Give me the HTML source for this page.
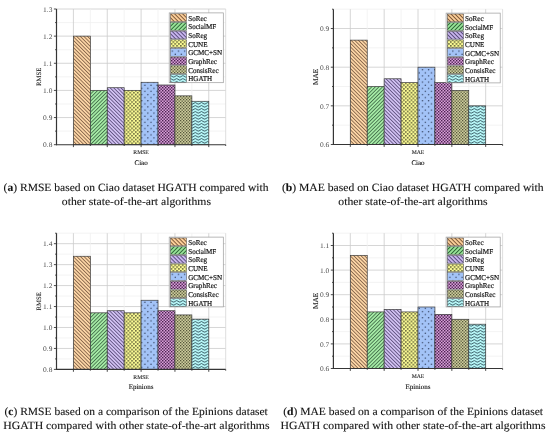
<!DOCTYPE html>
<html><head><meta charset="utf-8"><style>
html,body{margin:0;padding:0;background:#fff;width:550px;height:435px;overflow:hidden}
svg{display:block;filter:blur(0.35px)}
text{text-rendering:geometricPrecision}
.tk{font-family:"Liberation Serif",serif;font-size:7px;fill:#4a4a4a}
.xl{font-family:"Liberation Serif",serif;font-size:5.7px;fill:#1a1a1a;stroke:#1a1a1a;stroke-width:0.08}
.ds{font-family:"Liberation Serif",serif;font-size:7.0px;fill:#111;stroke:#111;stroke-width:0.12}
.yl{font-family:"Liberation Serif",serif;fill:#1a1a1a;stroke:#1a1a1a;stroke-width:0.1}
.lg{font-family:"Liberation Serif",serif;font-size:7.5px;fill:#1a1a1a;stroke:#1a1a1a;stroke-width:0.2}
.cap{font-family:"Liberation Serif",serif;font-size:11.1px;fill:#111;stroke:#111;stroke-width:0.1}
</style></head><body>
<svg width="550" height="435" viewBox="0 0 550 435">
<rect width="550" height="435" fill="#fff"/>

<defs>
 <pattern id="pSoRec" patternUnits="userSpaceOnUse" width="2.55" height="10" patternTransform="rotate(-45)">
  <rect width="2.55" height="10" fill="#ffd8a8"/><rect width="0.9" height="10" fill="#86654a"/>
 </pattern>
 <pattern id="pSocialMF" patternUnits="userSpaceOnUse" width="2.55" height="10" patternTransform="rotate(45)">
  <rect width="2.55" height="10" fill="#a8eea8"/><rect width="0.9" height="10" fill="#44714c"/>
 </pattern>
 <pattern id="pSoReg" patternUnits="userSpaceOnUse" width="2.55" height="10" patternTransform="rotate(-45)">
  <rect width="2.55" height="10" fill="#d4c4f5"/><rect width="0.9" height="10" fill="#605280"/>
 </pattern>
 <pattern id="pCUNE" patternUnits="userSpaceOnUse" width="3.75" height="3.75">
  <rect width="3.75" height="3.75" fill="#fbfb94"/>
  <rect x="0" y="0" width="1.6" height="1.6" fill="#6a6a3e"/>
  <rect x="1.875" y="1.875" width="1.6" height="1.6" fill="#6a6a3e"/>
 </pattern>
 <pattern id="pGCMC" patternUnits="userSpaceOnUse" width="6.1" height="6.2">
  <rect width="6.1" height="6.2" fill="#a3c3f7"/>
  <circle cx="1.5" cy="1.5" r="0.7" fill="#26324e"/>
  <circle cx="4.55" cy="4.6" r="0.7" fill="#26324e"/>
 </pattern>
 <pattern id="pGraphRec" patternUnits="userSpaceOnUse" width="3.0" height="3.0">
  <rect width="3.0" height="3.0" fill="#d89ed8"/>
  <rect x="0" y="0" width="1.4" height="1.4" fill="#4a2250"/>
  <rect x="1.5" y="1.5" width="1.4" height="1.4" fill="#4a2250"/>
 </pattern>
 <pattern id="pConsisRec" patternUnits="userSpaceOnUse" width="3.0" height="3.0">
  <rect width="3.0" height="3.0" fill="#cdcd9c"/>
  <rect x="0" y="0" width="1.3" height="1.3" fill="#55553a"/>
  <rect x="1.5" y="1.5" width="1.3" height="1.3" fill="#55553a"/>
 </pattern>
 <pattern id="pHGATH" patternUnits="userSpaceOnUse" width="6.2" height="3.0">
  <rect width="6.2" height="3.0" fill="#b6f5f6"/>
  <path d="M-3.1,0.5 L0,2.3 L3.1,0.5 L6.2,2.3 L9.3,0.5" fill="none" stroke="#1c3a44" stroke-width="0.72"/>
 </pattern>
 <pattern id="lSoRec" patternUnits="userSpaceOnUse" width="2.83" height="10" patternTransform="rotate(-45)">
  <rect width="2.83" height="10" fill="#ffd29c"/><rect width="1.0" height="10" fill="#7a5535"/>
 </pattern>
 <pattern id="lSocialMF" patternUnits="userSpaceOnUse" width="2.83" height="10" patternTransform="rotate(45)">
  <rect width="2.83" height="10" fill="#9ce89c"/><rect width="1.0" height="10" fill="#2f6638"/>
 </pattern>
 <pattern id="lSoReg" patternUnits="userSpaceOnUse" width="2.83" height="10" patternTransform="rotate(-45)">
  <rect width="2.83" height="10" fill="#cbb8f2"/><rect width="1.0" height="10" fill="#574a78"/>
 </pattern>
</defs>

<line x1="56.5" y1="131.13" x2="225.7" y2="131.13" stroke="#f0f0f0" stroke-width="0.8"/>
<line x1="56.5" y1="117.56" x2="225.7" y2="117.56" stroke="#cccccc" stroke-width="0.8"/>
<line x1="56.5" y1="103.99" x2="225.7" y2="103.99" stroke="#f0f0f0" stroke-width="0.8"/>
<line x1="56.5" y1="90.42" x2="225.7" y2="90.42" stroke="#cccccc" stroke-width="0.8"/>
<line x1="56.5" y1="76.85" x2="225.7" y2="76.85" stroke="#f0f0f0" stroke-width="0.8"/>
<line x1="56.5" y1="63.28" x2="225.7" y2="63.28" stroke="#cccccc" stroke-width="0.8"/>
<line x1="56.5" y1="49.71" x2="225.7" y2="49.71" stroke="#f0f0f0" stroke-width="0.8"/>
<line x1="56.5" y1="36.14" x2="225.7" y2="36.14" stroke="#cccccc" stroke-width="0.8"/>
<line x1="56.5" y1="22.57" x2="225.7" y2="22.57" stroke="#f0f0f0" stroke-width="0.8"/>
<line x1="56.5" y1="9" x2="225.7" y2="9" stroke="#cccccc" stroke-width="0.8"/>
<line x1="73.42" y1="9" x2="73.42" y2="144.7" stroke="#cccccc" stroke-width="0.8"/>
<line x1="90.34" y1="9" x2="90.34" y2="144.7" stroke="#f0f0f0" stroke-width="0.8"/>
<line x1="107.26" y1="9" x2="107.26" y2="144.7" stroke="#cccccc" stroke-width="0.8"/>
<line x1="124.18" y1="9" x2="124.18" y2="144.7" stroke="#f0f0f0" stroke-width="0.8"/>
<line x1="141.1" y1="9" x2="141.1" y2="144.7" stroke="#cccccc" stroke-width="0.8"/>
<line x1="158.02" y1="9" x2="158.02" y2="144.7" stroke="#f0f0f0" stroke-width="0.8"/>
<line x1="174.94" y1="9" x2="174.94" y2="144.7" stroke="#cccccc" stroke-width="0.8"/>
<line x1="191.86" y1="9" x2="191.86" y2="144.7" stroke="#f0f0f0" stroke-width="0.8"/>
<line x1="208.78" y1="9" x2="208.78" y2="144.7" stroke="#cccccc" stroke-width="0.8"/>
<line x1="225.7" y1="9" x2="225.7" y2="144.7" stroke="#d4d4d4" stroke-width="0.8"/>
<rect x="73.42" y="36.14" width="16.92" height="108.56" fill="url(#pSoRec)" stroke="#3a3a3a" stroke-width="0.7"/>
<rect x="90.34" y="90.42" width="16.92" height="54.28" fill="url(#pSocialMF)" stroke="#3a3a3a" stroke-width="0.7"/>
<rect x="107.26" y="87.71" width="16.92" height="56.99" fill="url(#pSoReg)" stroke="#3a3a3a" stroke-width="0.7"/>
<rect x="124.18" y="90.42" width="16.92" height="54.28" fill="url(#pCUNE)" stroke="#3a3a3a" stroke-width="0.7"/>
<rect x="141.1" y="82.28" width="16.92" height="62.42" fill="url(#pGCMC)" stroke="#3a3a3a" stroke-width="0.7"/>
<rect x="158.02" y="84.99" width="16.92" height="59.71" fill="url(#pGraphRec)" stroke="#3a3a3a" stroke-width="0.7"/>
<rect x="174.94" y="95.85" width="16.92" height="48.85" fill="url(#pConsisRec)" stroke="#3a3a3a" stroke-width="0.7"/>
<rect x="191.86" y="101.28" width="16.92" height="43.42" fill="url(#pHGATH)" stroke="#3a3a3a" stroke-width="0.7"/>
<line x1="56.5" y1="9" x2="56.5" y2="145.2" stroke="#353535" stroke-width="1.2"/>
<line x1="56" y1="144.7" x2="225.7" y2="144.7" stroke="#353535" stroke-width="1.15"/>
<line x1="53.9" y1="144.7" x2="56.5" y2="144.7" stroke="#353535" stroke-width="0.9"/>
<text x="52.4" y="147.4" class="tk" text-anchor="end" textLength="9.3" lengthAdjust="spacingAndGlyphs">0.8</text>
<line x1="55.1" y1="131.13" x2="56.5" y2="131.13" stroke="#353535" stroke-width="0.9"/>
<line x1="53.9" y1="117.56" x2="56.5" y2="117.56" stroke="#353535" stroke-width="0.9"/>
<text x="52.4" y="120.26" class="tk" text-anchor="end" textLength="9.3" lengthAdjust="spacingAndGlyphs">0.9</text>
<line x1="55.1" y1="103.99" x2="56.5" y2="103.99" stroke="#353535" stroke-width="0.9"/>
<line x1="53.9" y1="90.42" x2="56.5" y2="90.42" stroke="#353535" stroke-width="0.9"/>
<text x="52.4" y="93.12" class="tk" text-anchor="end" textLength="9.3" lengthAdjust="spacingAndGlyphs">1.0</text>
<line x1="55.1" y1="76.85" x2="56.5" y2="76.85" stroke="#353535" stroke-width="0.9"/>
<line x1="53.9" y1="63.28" x2="56.5" y2="63.28" stroke="#353535" stroke-width="0.9"/>
<text x="52.4" y="65.98" class="tk" text-anchor="end" textLength="9.3" lengthAdjust="spacingAndGlyphs">1.1</text>
<line x1="55.1" y1="49.71" x2="56.5" y2="49.71" stroke="#353535" stroke-width="0.9"/>
<line x1="53.9" y1="36.14" x2="56.5" y2="36.14" stroke="#353535" stroke-width="0.9"/>
<text x="52.4" y="38.84" class="tk" text-anchor="end" textLength="9.3" lengthAdjust="spacingAndGlyphs">1.2</text>
<line x1="55.1" y1="22.57" x2="56.5" y2="22.57" stroke="#353535" stroke-width="0.9"/>
<line x1="53.9" y1="9" x2="56.5" y2="9" stroke="#353535" stroke-width="0.9"/>
<text x="52.4" y="11.7" class="tk" text-anchor="end" textLength="9.3" lengthAdjust="spacingAndGlyphs">1.3</text>
<line x1="73.42" y1="144.7" x2="73.42" y2="147.1" stroke="#353535" stroke-width="0.9"/>
<line x1="90.34" y1="144.7" x2="90.34" y2="146" stroke="#353535" stroke-width="0.9"/>
<line x1="107.26" y1="144.7" x2="107.26" y2="147.1" stroke="#353535" stroke-width="0.9"/>
<line x1="124.18" y1="144.7" x2="124.18" y2="146" stroke="#353535" stroke-width="0.9"/>
<line x1="141.1" y1="144.7" x2="141.1" y2="147.1" stroke="#353535" stroke-width="0.9"/>
<line x1="158.02" y1="144.7" x2="158.02" y2="146" stroke="#353535" stroke-width="0.9"/>
<line x1="174.94" y1="144.7" x2="174.94" y2="147.1" stroke="#353535" stroke-width="0.9"/>
<line x1="191.86" y1="144.7" x2="191.86" y2="146" stroke="#353535" stroke-width="0.9"/>
<line x1="208.78" y1="144.7" x2="208.78" y2="147.1" stroke="#353535" stroke-width="0.9"/>
<line x1="225.7" y1="144.7" x2="225.7" y2="146" stroke="#353535" stroke-width="0.9"/>
<text x="141.1" y="153.8" class="xl" text-anchor="middle">RMSE</text>
<text x="141.1" y="164.7" class="ds" text-anchor="middle">Ciao</text>
<text transform="translate(41,76.85) rotate(-90)" class="yl" text-anchor="middle" font-size="6.7px">RMSE</text>
<rect x="169.2" y="12.9" width="54.1" height="69.8" fill="#ffffff" stroke="#9a9a9a" stroke-width="0.7"/>
<rect x="170.4" y="13.8" width="16.2" height="7.8" fill="url(#lSoRec)" stroke="#5a5a5a" stroke-width="0.55"/>
<text x="188.2" y="20.7" class="lg" textLength="18.54" lengthAdjust="spacingAndGlyphs">SoRec</text>
<rect x="170.4" y="22.46" width="16.2" height="7.8" fill="url(#lSocialMF)" stroke="#5a5a5a" stroke-width="0.55"/>
<text x="188.2" y="29.36" class="lg" textLength="28.01" lengthAdjust="spacingAndGlyphs">SocialMF</text>
<rect x="170.4" y="31.12" width="16.2" height="7.8" fill="url(#lSoReg)" stroke="#5a5a5a" stroke-width="0.55"/>
<text x="188.2" y="38.02" class="lg" textLength="18.94" lengthAdjust="spacingAndGlyphs">SoReg</text>
<rect x="170.4" y="39.78" width="16.2" height="7.8" fill="url(#pCUNE)" stroke="#5a5a5a" stroke-width="0.55"/>
<text x="188.2" y="46.68" class="lg" textLength="19.33" lengthAdjust="spacingAndGlyphs">CUNE</text>
<rect x="170.4" y="48.44" width="16.2" height="7.8" fill="url(#pGCMC)" stroke="#5a5a5a" stroke-width="0.55"/>
<text x="188.2" y="55.34" class="lg" textLength="33.99" lengthAdjust="spacingAndGlyphs">GCMC+SN</text>
<rect x="170.4" y="57.1" width="16.2" height="7.8" fill="url(#pGraphRec)" stroke="#5a5a5a" stroke-width="0.55"/>
<text x="188.2" y="64" class="lg" textLength="28.78" lengthAdjust="spacingAndGlyphs">GraphRec</text>
<rect x="170.4" y="65.76" width="16.2" height="7.8" fill="url(#pConsisRec)" stroke="#5a5a5a" stroke-width="0.55"/>
<text x="188.2" y="72.66" class="lg" textLength="30.37" lengthAdjust="spacingAndGlyphs">ConsisRec</text>
<rect x="170.4" y="74.42" width="16.2" height="7.8" fill="url(#pHGATH)" stroke="#5a5a5a" stroke-width="0.55"/>
<text x="188.2" y="81.32" class="lg" textLength="24.06" lengthAdjust="spacingAndGlyphs">HGATH</text>

<text x="3.6" y="190.9" class="cap" textLength="264.9" lengthAdjust="spacingAndGlyphs">(<tspan font-weight="bold">a</tspan>) RMSE based on Ciao dataset HGATH compared with</text>
<text x="61.8" y="205.4" class="cap" textLength="149.2" lengthAdjust="spacingAndGlyphs">other state-of-the-art algorithms</text>
<line x1="333.4" y1="125.17" x2="502.6" y2="125.17" stroke="#f0f0f0" stroke-width="0.8"/>
<line x1="333.4" y1="105.84" x2="502.6" y2="105.84" stroke="#cccccc" stroke-width="0.8"/>
<line x1="333.4" y1="86.51" x2="502.6" y2="86.51" stroke="#f0f0f0" stroke-width="0.8"/>
<line x1="333.4" y1="67.19" x2="502.6" y2="67.19" stroke="#cccccc" stroke-width="0.8"/>
<line x1="333.4" y1="47.86" x2="502.6" y2="47.86" stroke="#f0f0f0" stroke-width="0.8"/>
<line x1="333.4" y1="28.53" x2="502.6" y2="28.53" stroke="#cccccc" stroke-width="0.8"/>
<line x1="333.4" y1="9.2" x2="502.6" y2="9.2" stroke="#f0f0f0" stroke-width="0.8"/>
<line x1="350.32" y1="9.2" x2="350.32" y2="144.5" stroke="#cccccc" stroke-width="0.8"/>
<line x1="367.24" y1="9.2" x2="367.24" y2="144.5" stroke="#f0f0f0" stroke-width="0.8"/>
<line x1="384.16" y1="9.2" x2="384.16" y2="144.5" stroke="#cccccc" stroke-width="0.8"/>
<line x1="401.08" y1="9.2" x2="401.08" y2="144.5" stroke="#f0f0f0" stroke-width="0.8"/>
<line x1="418" y1="9.2" x2="418" y2="144.5" stroke="#cccccc" stroke-width="0.8"/>
<line x1="434.92" y1="9.2" x2="434.92" y2="144.5" stroke="#f0f0f0" stroke-width="0.8"/>
<line x1="451.84" y1="9.2" x2="451.84" y2="144.5" stroke="#cccccc" stroke-width="0.8"/>
<line x1="468.76" y1="9.2" x2="468.76" y2="144.5" stroke="#f0f0f0" stroke-width="0.8"/>
<line x1="485.68" y1="9.2" x2="485.68" y2="144.5" stroke="#cccccc" stroke-width="0.8"/>
<line x1="502.6" y1="9.2" x2="502.6" y2="144.5" stroke="#d4d4d4" stroke-width="0.8"/>
<rect x="350.32" y="40.13" width="16.92" height="104.37" fill="url(#pSoRec)" stroke="#3a3a3a" stroke-width="0.7"/>
<rect x="367.24" y="86.51" width="16.92" height="57.99" fill="url(#pSocialMF)" stroke="#3a3a3a" stroke-width="0.7"/>
<rect x="384.16" y="78.78" width="16.92" height="65.72" fill="url(#pSoReg)" stroke="#3a3a3a" stroke-width="0.7"/>
<rect x="401.08" y="82.65" width="16.92" height="61.85" fill="url(#pCUNE)" stroke="#3a3a3a" stroke-width="0.7"/>
<rect x="418" y="67.19" width="16.92" height="77.31" fill="url(#pGCMC)" stroke="#3a3a3a" stroke-width="0.7"/>
<rect x="434.92" y="82.65" width="16.92" height="61.85" fill="url(#pGraphRec)" stroke="#3a3a3a" stroke-width="0.7"/>
<rect x="451.84" y="90.38" width="16.92" height="54.12" fill="url(#pConsisRec)" stroke="#3a3a3a" stroke-width="0.7"/>
<rect x="468.76" y="105.84" width="16.92" height="38.66" fill="url(#pHGATH)" stroke="#3a3a3a" stroke-width="0.7"/>
<line x1="333.4" y1="9.2" x2="333.4" y2="145" stroke="#353535" stroke-width="1.2"/>
<line x1="332.9" y1="144.5" x2="502.6" y2="144.5" stroke="#353535" stroke-width="1.15"/>
<line x1="330.8" y1="144.5" x2="333.4" y2="144.5" stroke="#353535" stroke-width="0.9"/>
<text x="329.3" y="147.2" class="tk" text-anchor="end" textLength="9.3" lengthAdjust="spacingAndGlyphs">0.6</text>
<line x1="332" y1="125.17" x2="333.4" y2="125.17" stroke="#353535" stroke-width="0.9"/>
<line x1="330.8" y1="105.84" x2="333.4" y2="105.84" stroke="#353535" stroke-width="0.9"/>
<text x="329.3" y="108.54" class="tk" text-anchor="end" textLength="9.3" lengthAdjust="spacingAndGlyphs">0.7</text>
<line x1="332" y1="86.51" x2="333.4" y2="86.51" stroke="#353535" stroke-width="0.9"/>
<line x1="330.8" y1="67.19" x2="333.4" y2="67.19" stroke="#353535" stroke-width="0.9"/>
<text x="329.3" y="69.89" class="tk" text-anchor="end" textLength="9.3" lengthAdjust="spacingAndGlyphs">0.8</text>
<line x1="332" y1="47.86" x2="333.4" y2="47.86" stroke="#353535" stroke-width="0.9"/>
<line x1="330.8" y1="28.53" x2="333.4" y2="28.53" stroke="#353535" stroke-width="0.9"/>
<text x="329.3" y="31.23" class="tk" text-anchor="end" textLength="9.3" lengthAdjust="spacingAndGlyphs">0.9</text>
<line x1="332" y1="9.2" x2="333.4" y2="9.2" stroke="#353535" stroke-width="0.9"/>
<line x1="350.32" y1="144.5" x2="350.32" y2="146.9" stroke="#353535" stroke-width="0.9"/>
<line x1="367.24" y1="144.5" x2="367.24" y2="145.8" stroke="#353535" stroke-width="0.9"/>
<line x1="384.16" y1="144.5" x2="384.16" y2="146.9" stroke="#353535" stroke-width="0.9"/>
<line x1="401.08" y1="144.5" x2="401.08" y2="145.8" stroke="#353535" stroke-width="0.9"/>
<line x1="418" y1="144.5" x2="418" y2="146.9" stroke="#353535" stroke-width="0.9"/>
<line x1="434.92" y1="144.5" x2="434.92" y2="145.8" stroke="#353535" stroke-width="0.9"/>
<line x1="451.84" y1="144.5" x2="451.84" y2="146.9" stroke="#353535" stroke-width="0.9"/>
<line x1="468.76" y1="144.5" x2="468.76" y2="145.8" stroke="#353535" stroke-width="0.9"/>
<line x1="485.68" y1="144.5" x2="485.68" y2="146.9" stroke="#353535" stroke-width="0.9"/>
<line x1="502.6" y1="144.5" x2="502.6" y2="145.8" stroke="#353535" stroke-width="0.9"/>
<text x="418" y="153.6" class="xl" text-anchor="middle">MAE</text>
<text x="418" y="164.5" class="ds" text-anchor="middle">Ciao</text>
<text transform="translate(317.9,76.85) rotate(-90)" class="yl" text-anchor="middle" font-size="7.4px">MAE</text>
<rect x="446.1" y="13.1" width="54.1" height="69.8" fill="#ffffff" stroke="#9a9a9a" stroke-width="0.7"/>
<rect x="447.3" y="14" width="16.2" height="7.8" fill="url(#lSoRec)" stroke="#5a5a5a" stroke-width="0.55"/>
<text x="465.1" y="20.9" class="lg" textLength="18.54" lengthAdjust="spacingAndGlyphs">SoRec</text>
<rect x="447.3" y="22.66" width="16.2" height="7.8" fill="url(#lSocialMF)" stroke="#5a5a5a" stroke-width="0.55"/>
<text x="465.1" y="29.56" class="lg" textLength="28.01" lengthAdjust="spacingAndGlyphs">SocialMF</text>
<rect x="447.3" y="31.32" width="16.2" height="7.8" fill="url(#lSoReg)" stroke="#5a5a5a" stroke-width="0.55"/>
<text x="465.1" y="38.22" class="lg" textLength="18.94" lengthAdjust="spacingAndGlyphs">SoReg</text>
<rect x="447.3" y="39.98" width="16.2" height="7.8" fill="url(#pCUNE)" stroke="#5a5a5a" stroke-width="0.55"/>
<text x="465.1" y="46.88" class="lg" textLength="19.33" lengthAdjust="spacingAndGlyphs">CUNE</text>
<rect x="447.3" y="48.64" width="16.2" height="7.8" fill="url(#pGCMC)" stroke="#5a5a5a" stroke-width="0.55"/>
<text x="465.1" y="55.54" class="lg" textLength="33.99" lengthAdjust="spacingAndGlyphs">GCMC+SN</text>
<rect x="447.3" y="57.3" width="16.2" height="7.8" fill="url(#pGraphRec)" stroke="#5a5a5a" stroke-width="0.55"/>
<text x="465.1" y="64.2" class="lg" textLength="28.78" lengthAdjust="spacingAndGlyphs">GraphRec</text>
<rect x="447.3" y="65.96" width="16.2" height="7.8" fill="url(#pConsisRec)" stroke="#5a5a5a" stroke-width="0.55"/>
<text x="465.1" y="72.86" class="lg" textLength="30.37" lengthAdjust="spacingAndGlyphs">ConsisRec</text>
<rect x="447.3" y="74.62" width="16.2" height="7.8" fill="url(#pHGATH)" stroke="#5a5a5a" stroke-width="0.55"/>
<text x="465.1" y="81.52" class="lg" textLength="24.06" lengthAdjust="spacingAndGlyphs">HGATH</text>

<text x="281.9" y="190.9" class="cap" textLength="261.7" lengthAdjust="spacingAndGlyphs">(<tspan font-weight="bold">b</tspan>) MAE based on Ciao dataset HGATH compared with</text>
<text x="338.3" y="205.4" class="cap" textLength="149.3" lengthAdjust="spacingAndGlyphs">other state-of-the-art algorithms</text>
<line x1="56.5" y1="358.92" x2="225.7" y2="358.92" stroke="#f0f0f0" stroke-width="0.8"/>
<line x1="56.5" y1="348.45" x2="225.7" y2="348.45" stroke="#cccccc" stroke-width="0.8"/>
<line x1="56.5" y1="337.97" x2="225.7" y2="337.97" stroke="#f0f0f0" stroke-width="0.8"/>
<line x1="56.5" y1="327.49" x2="225.7" y2="327.49" stroke="#cccccc" stroke-width="0.8"/>
<line x1="56.5" y1="317.02" x2="225.7" y2="317.02" stroke="#f0f0f0" stroke-width="0.8"/>
<line x1="56.5" y1="306.54" x2="225.7" y2="306.54" stroke="#cccccc" stroke-width="0.8"/>
<line x1="56.5" y1="296.06" x2="225.7" y2="296.06" stroke="#f0f0f0" stroke-width="0.8"/>
<line x1="56.5" y1="285.58" x2="225.7" y2="285.58" stroke="#cccccc" stroke-width="0.8"/>
<line x1="56.5" y1="275.11" x2="225.7" y2="275.11" stroke="#f0f0f0" stroke-width="0.8"/>
<line x1="56.5" y1="264.63" x2="225.7" y2="264.63" stroke="#cccccc" stroke-width="0.8"/>
<line x1="56.5" y1="254.15" x2="225.7" y2="254.15" stroke="#f0f0f0" stroke-width="0.8"/>
<line x1="56.5" y1="243.68" x2="225.7" y2="243.68" stroke="#cccccc" stroke-width="0.8"/>
<line x1="56.5" y1="233.2" x2="225.7" y2="233.2" stroke="#f0f0f0" stroke-width="0.8"/>
<line x1="73.42" y1="233.2" x2="73.42" y2="369.4" stroke="#cccccc" stroke-width="0.8"/>
<line x1="90.34" y1="233.2" x2="90.34" y2="369.4" stroke="#f0f0f0" stroke-width="0.8"/>
<line x1="107.26" y1="233.2" x2="107.26" y2="369.4" stroke="#cccccc" stroke-width="0.8"/>
<line x1="124.18" y1="233.2" x2="124.18" y2="369.4" stroke="#f0f0f0" stroke-width="0.8"/>
<line x1="141.1" y1="233.2" x2="141.1" y2="369.4" stroke="#cccccc" stroke-width="0.8"/>
<line x1="158.02" y1="233.2" x2="158.02" y2="369.4" stroke="#f0f0f0" stroke-width="0.8"/>
<line x1="174.94" y1="233.2" x2="174.94" y2="369.4" stroke="#cccccc" stroke-width="0.8"/>
<line x1="191.86" y1="233.2" x2="191.86" y2="369.4" stroke="#f0f0f0" stroke-width="0.8"/>
<line x1="208.78" y1="233.2" x2="208.78" y2="369.4" stroke="#cccccc" stroke-width="0.8"/>
<line x1="225.7" y1="233.2" x2="225.7" y2="369.4" stroke="#d4d4d4" stroke-width="0.8"/>
<rect x="73.42" y="256.25" width="16.92" height="113.15" fill="url(#pSoRec)" stroke="#3a3a3a" stroke-width="0.7"/>
<rect x="90.34" y="312.82" width="16.92" height="56.58" fill="url(#pSocialMF)" stroke="#3a3a3a" stroke-width="0.7"/>
<rect x="107.26" y="310.73" width="16.92" height="58.67" fill="url(#pSoReg)" stroke="#3a3a3a" stroke-width="0.7"/>
<rect x="124.18" y="312.82" width="16.92" height="56.58" fill="url(#pCUNE)" stroke="#3a3a3a" stroke-width="0.7"/>
<rect x="141.1" y="300.25" width="16.92" height="69.15" fill="url(#pGCMC)" stroke="#3a3a3a" stroke-width="0.7"/>
<rect x="158.02" y="310.73" width="16.92" height="58.67" fill="url(#pGraphRec)" stroke="#3a3a3a" stroke-width="0.7"/>
<rect x="174.94" y="314.92" width="16.92" height="54.48" fill="url(#pConsisRec)" stroke="#3a3a3a" stroke-width="0.7"/>
<rect x="191.86" y="319.11" width="16.92" height="50.29" fill="url(#pHGATH)" stroke="#3a3a3a" stroke-width="0.7"/>
<line x1="56.5" y1="233.2" x2="56.5" y2="369.9" stroke="#353535" stroke-width="1.2"/>
<line x1="56" y1="369.4" x2="225.7" y2="369.4" stroke="#353535" stroke-width="1.15"/>
<line x1="53.9" y1="369.4" x2="56.5" y2="369.4" stroke="#353535" stroke-width="0.9"/>
<text x="52.4" y="372.1" class="tk" text-anchor="end" textLength="9.3" lengthAdjust="spacingAndGlyphs">0.8</text>
<line x1="55.1" y1="358.92" x2="56.5" y2="358.92" stroke="#353535" stroke-width="0.9"/>
<line x1="53.9" y1="348.45" x2="56.5" y2="348.45" stroke="#353535" stroke-width="0.9"/>
<text x="52.4" y="351.15" class="tk" text-anchor="end" textLength="9.3" lengthAdjust="spacingAndGlyphs">0.9</text>
<line x1="55.1" y1="337.97" x2="56.5" y2="337.97" stroke="#353535" stroke-width="0.9"/>
<line x1="53.9" y1="327.49" x2="56.5" y2="327.49" stroke="#353535" stroke-width="0.9"/>
<text x="52.4" y="330.19" class="tk" text-anchor="end" textLength="9.3" lengthAdjust="spacingAndGlyphs">1.0</text>
<line x1="55.1" y1="317.02" x2="56.5" y2="317.02" stroke="#353535" stroke-width="0.9"/>
<line x1="53.9" y1="306.54" x2="56.5" y2="306.54" stroke="#353535" stroke-width="0.9"/>
<text x="52.4" y="309.24" class="tk" text-anchor="end" textLength="9.3" lengthAdjust="spacingAndGlyphs">1.1</text>
<line x1="55.1" y1="296.06" x2="56.5" y2="296.06" stroke="#353535" stroke-width="0.9"/>
<line x1="53.9" y1="285.58" x2="56.5" y2="285.58" stroke="#353535" stroke-width="0.9"/>
<text x="52.4" y="288.28" class="tk" text-anchor="end" textLength="9.3" lengthAdjust="spacingAndGlyphs">1.2</text>
<line x1="55.1" y1="275.11" x2="56.5" y2="275.11" stroke="#353535" stroke-width="0.9"/>
<line x1="53.9" y1="264.63" x2="56.5" y2="264.63" stroke="#353535" stroke-width="0.9"/>
<text x="52.4" y="267.33" class="tk" text-anchor="end" textLength="9.3" lengthAdjust="spacingAndGlyphs">1.3</text>
<line x1="55.1" y1="254.15" x2="56.5" y2="254.15" stroke="#353535" stroke-width="0.9"/>
<line x1="53.9" y1="243.68" x2="56.5" y2="243.68" stroke="#353535" stroke-width="0.9"/>
<text x="52.4" y="246.38" class="tk" text-anchor="end" textLength="9.3" lengthAdjust="spacingAndGlyphs">1.4</text>
<line x1="55.1" y1="233.2" x2="56.5" y2="233.2" stroke="#353535" stroke-width="0.9"/>
<line x1="73.42" y1="369.4" x2="73.42" y2="371.8" stroke="#353535" stroke-width="0.9"/>
<line x1="90.34" y1="369.4" x2="90.34" y2="370.7" stroke="#353535" stroke-width="0.9"/>
<line x1="107.26" y1="369.4" x2="107.26" y2="371.8" stroke="#353535" stroke-width="0.9"/>
<line x1="124.18" y1="369.4" x2="124.18" y2="370.7" stroke="#353535" stroke-width="0.9"/>
<line x1="141.1" y1="369.4" x2="141.1" y2="371.8" stroke="#353535" stroke-width="0.9"/>
<line x1="158.02" y1="369.4" x2="158.02" y2="370.7" stroke="#353535" stroke-width="0.9"/>
<line x1="174.94" y1="369.4" x2="174.94" y2="371.8" stroke="#353535" stroke-width="0.9"/>
<line x1="191.86" y1="369.4" x2="191.86" y2="370.7" stroke="#353535" stroke-width="0.9"/>
<line x1="208.78" y1="369.4" x2="208.78" y2="371.8" stroke="#353535" stroke-width="0.9"/>
<line x1="225.7" y1="369.4" x2="225.7" y2="370.7" stroke="#353535" stroke-width="0.9"/>
<text x="141.1" y="378.5" class="xl" text-anchor="middle">RMSE</text>
<text x="141.1" y="389.4" class="ds" text-anchor="middle">Epinions</text>
<text transform="translate(41,301.3) rotate(-90)" class="yl" text-anchor="middle" font-size="6.7px">RMSE</text>
<rect x="169.2" y="237.1" width="54.1" height="69.8" fill="#ffffff" stroke="#9a9a9a" stroke-width="0.7"/>
<rect x="170.4" y="238" width="16.2" height="7.8" fill="url(#lSoRec)" stroke="#5a5a5a" stroke-width="0.55"/>
<text x="188.2" y="244.9" class="lg" textLength="18.54" lengthAdjust="spacingAndGlyphs">SoRec</text>
<rect x="170.4" y="246.66" width="16.2" height="7.8" fill="url(#lSocialMF)" stroke="#5a5a5a" stroke-width="0.55"/>
<text x="188.2" y="253.56" class="lg" textLength="28.01" lengthAdjust="spacingAndGlyphs">SocialMF</text>
<rect x="170.4" y="255.32" width="16.2" height="7.8" fill="url(#lSoReg)" stroke="#5a5a5a" stroke-width="0.55"/>
<text x="188.2" y="262.22" class="lg" textLength="18.94" lengthAdjust="spacingAndGlyphs">SoReg</text>
<rect x="170.4" y="263.98" width="16.2" height="7.8" fill="url(#pCUNE)" stroke="#5a5a5a" stroke-width="0.55"/>
<text x="188.2" y="270.88" class="lg" textLength="19.33" lengthAdjust="spacingAndGlyphs">CUNE</text>
<rect x="170.4" y="272.64" width="16.2" height="7.8" fill="url(#pGCMC)" stroke="#5a5a5a" stroke-width="0.55"/>
<text x="188.2" y="279.54" class="lg" textLength="33.99" lengthAdjust="spacingAndGlyphs">GCMC+SN</text>
<rect x="170.4" y="281.3" width="16.2" height="7.8" fill="url(#pGraphRec)" stroke="#5a5a5a" stroke-width="0.55"/>
<text x="188.2" y="288.2" class="lg" textLength="28.78" lengthAdjust="spacingAndGlyphs">GraphRec</text>
<rect x="170.4" y="289.96" width="16.2" height="7.8" fill="url(#pConsisRec)" stroke="#5a5a5a" stroke-width="0.55"/>
<text x="188.2" y="296.86" class="lg" textLength="30.37" lengthAdjust="spacingAndGlyphs">ConsisRec</text>
<rect x="170.4" y="298.62" width="16.2" height="7.8" fill="url(#pHGATH)" stroke="#5a5a5a" stroke-width="0.55"/>
<text x="188.2" y="305.52" class="lg" textLength="24.06" lengthAdjust="spacingAndGlyphs">HGATH</text>

<text x="4.5" y="414.5" class="cap" textLength="263.3" lengthAdjust="spacingAndGlyphs">(<tspan font-weight="bold">c</tspan>) RMSE based on a comparison of the Epinions dataset</text>
<text x="3.3" y="429.1" class="cap" textLength="266.2" lengthAdjust="spacingAndGlyphs">HGATH compared with other state-of-the-art algorithms</text>
<line x1="333.4" y1="356.2" x2="502.6" y2="356.2" stroke="#f0f0f0" stroke-width="0.8"/>
<line x1="333.4" y1="343.9" x2="502.6" y2="343.9" stroke="#cccccc" stroke-width="0.8"/>
<line x1="333.4" y1="331.6" x2="502.6" y2="331.6" stroke="#f0f0f0" stroke-width="0.8"/>
<line x1="333.4" y1="319.3" x2="502.6" y2="319.3" stroke="#cccccc" stroke-width="0.8"/>
<line x1="333.4" y1="307" x2="502.6" y2="307" stroke="#f0f0f0" stroke-width="0.8"/>
<line x1="333.4" y1="294.7" x2="502.6" y2="294.7" stroke="#cccccc" stroke-width="0.8"/>
<line x1="333.4" y1="282.4" x2="502.6" y2="282.4" stroke="#f0f0f0" stroke-width="0.8"/>
<line x1="333.4" y1="270.1" x2="502.6" y2="270.1" stroke="#cccccc" stroke-width="0.8"/>
<line x1="333.4" y1="257.8" x2="502.6" y2="257.8" stroke="#f0f0f0" stroke-width="0.8"/>
<line x1="333.4" y1="245.5" x2="502.6" y2="245.5" stroke="#cccccc" stroke-width="0.8"/>
<line x1="333.4" y1="233.2" x2="502.6" y2="233.2" stroke="#f0f0f0" stroke-width="0.8"/>
<line x1="350.32" y1="233.2" x2="350.32" y2="368.5" stroke="#cccccc" stroke-width="0.8"/>
<line x1="367.24" y1="233.2" x2="367.24" y2="368.5" stroke="#f0f0f0" stroke-width="0.8"/>
<line x1="384.16" y1="233.2" x2="384.16" y2="368.5" stroke="#cccccc" stroke-width="0.8"/>
<line x1="401.08" y1="233.2" x2="401.08" y2="368.5" stroke="#f0f0f0" stroke-width="0.8"/>
<line x1="418" y1="233.2" x2="418" y2="368.5" stroke="#cccccc" stroke-width="0.8"/>
<line x1="434.92" y1="233.2" x2="434.92" y2="368.5" stroke="#f0f0f0" stroke-width="0.8"/>
<line x1="451.84" y1="233.2" x2="451.84" y2="368.5" stroke="#cccccc" stroke-width="0.8"/>
<line x1="468.76" y1="233.2" x2="468.76" y2="368.5" stroke="#f0f0f0" stroke-width="0.8"/>
<line x1="485.68" y1="233.2" x2="485.68" y2="368.5" stroke="#cccccc" stroke-width="0.8"/>
<line x1="502.6" y1="233.2" x2="502.6" y2="368.5" stroke="#d4d4d4" stroke-width="0.8"/>
<rect x="350.32" y="255.34" width="16.92" height="113.16" fill="url(#pSoRec)" stroke="#3a3a3a" stroke-width="0.7"/>
<rect x="367.24" y="311.92" width="16.92" height="56.58" fill="url(#pSocialMF)" stroke="#3a3a3a" stroke-width="0.7"/>
<rect x="384.16" y="309.46" width="16.92" height="59.04" fill="url(#pSoReg)" stroke="#3a3a3a" stroke-width="0.7"/>
<rect x="401.08" y="311.92" width="16.92" height="56.58" fill="url(#pCUNE)" stroke="#3a3a3a" stroke-width="0.7"/>
<rect x="418" y="307" width="16.92" height="61.5" fill="url(#pGCMC)" stroke="#3a3a3a" stroke-width="0.7"/>
<rect x="434.92" y="314.38" width="16.92" height="54.12" fill="url(#pGraphRec)" stroke="#3a3a3a" stroke-width="0.7"/>
<rect x="451.84" y="319.3" width="16.92" height="49.2" fill="url(#pConsisRec)" stroke="#3a3a3a" stroke-width="0.7"/>
<rect x="468.76" y="324.22" width="16.92" height="44.28" fill="url(#pHGATH)" stroke="#3a3a3a" stroke-width="0.7"/>
<line x1="333.4" y1="233.2" x2="333.4" y2="369" stroke="#353535" stroke-width="1.2"/>
<line x1="332.9" y1="368.5" x2="502.6" y2="368.5" stroke="#353535" stroke-width="1.15"/>
<line x1="330.8" y1="368.5" x2="333.4" y2="368.5" stroke="#353535" stroke-width="0.9"/>
<text x="329.3" y="371.2" class="tk" text-anchor="end" textLength="9.3" lengthAdjust="spacingAndGlyphs">0.6</text>
<line x1="332" y1="356.2" x2="333.4" y2="356.2" stroke="#353535" stroke-width="0.9"/>
<line x1="330.8" y1="343.9" x2="333.4" y2="343.9" stroke="#353535" stroke-width="0.9"/>
<text x="329.3" y="346.6" class="tk" text-anchor="end" textLength="9.3" lengthAdjust="spacingAndGlyphs">0.7</text>
<line x1="332" y1="331.6" x2="333.4" y2="331.6" stroke="#353535" stroke-width="0.9"/>
<line x1="330.8" y1="319.3" x2="333.4" y2="319.3" stroke="#353535" stroke-width="0.9"/>
<text x="329.3" y="322" class="tk" text-anchor="end" textLength="9.3" lengthAdjust="spacingAndGlyphs">0.8</text>
<line x1="332" y1="307" x2="333.4" y2="307" stroke="#353535" stroke-width="0.9"/>
<line x1="330.8" y1="294.7" x2="333.4" y2="294.7" stroke="#353535" stroke-width="0.9"/>
<text x="329.3" y="297.4" class="tk" text-anchor="end" textLength="9.3" lengthAdjust="spacingAndGlyphs">0.9</text>
<line x1="332" y1="282.4" x2="333.4" y2="282.4" stroke="#353535" stroke-width="0.9"/>
<line x1="330.8" y1="270.1" x2="333.4" y2="270.1" stroke="#353535" stroke-width="0.9"/>
<text x="329.3" y="272.8" class="tk" text-anchor="end" textLength="9.3" lengthAdjust="spacingAndGlyphs">1.0</text>
<line x1="332" y1="257.8" x2="333.4" y2="257.8" stroke="#353535" stroke-width="0.9"/>
<line x1="330.8" y1="245.5" x2="333.4" y2="245.5" stroke="#353535" stroke-width="0.9"/>
<text x="329.3" y="248.2" class="tk" text-anchor="end" textLength="9.3" lengthAdjust="spacingAndGlyphs">1.1</text>
<line x1="332" y1="233.2" x2="333.4" y2="233.2" stroke="#353535" stroke-width="0.9"/>
<line x1="350.32" y1="368.5" x2="350.32" y2="370.9" stroke="#353535" stroke-width="0.9"/>
<line x1="367.24" y1="368.5" x2="367.24" y2="369.8" stroke="#353535" stroke-width="0.9"/>
<line x1="384.16" y1="368.5" x2="384.16" y2="370.9" stroke="#353535" stroke-width="0.9"/>
<line x1="401.08" y1="368.5" x2="401.08" y2="369.8" stroke="#353535" stroke-width="0.9"/>
<line x1="418" y1="368.5" x2="418" y2="370.9" stroke="#353535" stroke-width="0.9"/>
<line x1="434.92" y1="368.5" x2="434.92" y2="369.8" stroke="#353535" stroke-width="0.9"/>
<line x1="451.84" y1="368.5" x2="451.84" y2="370.9" stroke="#353535" stroke-width="0.9"/>
<line x1="468.76" y1="368.5" x2="468.76" y2="369.8" stroke="#353535" stroke-width="0.9"/>
<line x1="485.68" y1="368.5" x2="485.68" y2="370.9" stroke="#353535" stroke-width="0.9"/>
<line x1="502.6" y1="368.5" x2="502.6" y2="369.8" stroke="#353535" stroke-width="0.9"/>
<text x="418" y="377.6" class="xl" text-anchor="middle">MAE</text>
<text x="418" y="388.5" class="ds" text-anchor="middle">Epinions</text>
<text transform="translate(317.9,300.85) rotate(-90)" class="yl" text-anchor="middle" font-size="7.4px">MAE</text>
<rect x="446.1" y="237.1" width="54.1" height="69.8" fill="#ffffff" stroke="#9a9a9a" stroke-width="0.7"/>
<rect x="447.3" y="238" width="16.2" height="7.8" fill="url(#lSoRec)" stroke="#5a5a5a" stroke-width="0.55"/>
<text x="465.1" y="244.9" class="lg" textLength="18.54" lengthAdjust="spacingAndGlyphs">SoRec</text>
<rect x="447.3" y="246.66" width="16.2" height="7.8" fill="url(#lSocialMF)" stroke="#5a5a5a" stroke-width="0.55"/>
<text x="465.1" y="253.56" class="lg" textLength="28.01" lengthAdjust="spacingAndGlyphs">SocialMF</text>
<rect x="447.3" y="255.32" width="16.2" height="7.8" fill="url(#lSoReg)" stroke="#5a5a5a" stroke-width="0.55"/>
<text x="465.1" y="262.22" class="lg" textLength="18.94" lengthAdjust="spacingAndGlyphs">SoReg</text>
<rect x="447.3" y="263.98" width="16.2" height="7.8" fill="url(#pCUNE)" stroke="#5a5a5a" stroke-width="0.55"/>
<text x="465.1" y="270.88" class="lg" textLength="19.33" lengthAdjust="spacingAndGlyphs">CUNE</text>
<rect x="447.3" y="272.64" width="16.2" height="7.8" fill="url(#pGCMC)" stroke="#5a5a5a" stroke-width="0.55"/>
<text x="465.1" y="279.54" class="lg" textLength="33.99" lengthAdjust="spacingAndGlyphs">GCMC+SN</text>
<rect x="447.3" y="281.3" width="16.2" height="7.8" fill="url(#pGraphRec)" stroke="#5a5a5a" stroke-width="0.55"/>
<text x="465.1" y="288.2" class="lg" textLength="28.78" lengthAdjust="spacingAndGlyphs">GraphRec</text>
<rect x="447.3" y="289.96" width="16.2" height="7.8" fill="url(#pConsisRec)" stroke="#5a5a5a" stroke-width="0.55"/>
<text x="465.1" y="296.86" class="lg" textLength="30.37" lengthAdjust="spacingAndGlyphs">ConsisRec</text>
<rect x="447.3" y="298.62" width="16.2" height="7.8" fill="url(#pHGATH)" stroke="#5a5a5a" stroke-width="0.55"/>
<text x="465.1" y="305.52" class="lg" textLength="24.06" lengthAdjust="spacingAndGlyphs">HGATH</text>

<text x="283.2" y="414.5" class="cap" textLength="259.9" lengthAdjust="spacingAndGlyphs">(<tspan font-weight="bold">d</tspan>) MAE based on a comparison of the Epinions dataset</text>
<text x="280.5" y="429.1" class="cap" textLength="265" lengthAdjust="spacingAndGlyphs">HGATH compared with other state-of-the-art algorithms</text>
</svg>
</body></html>
